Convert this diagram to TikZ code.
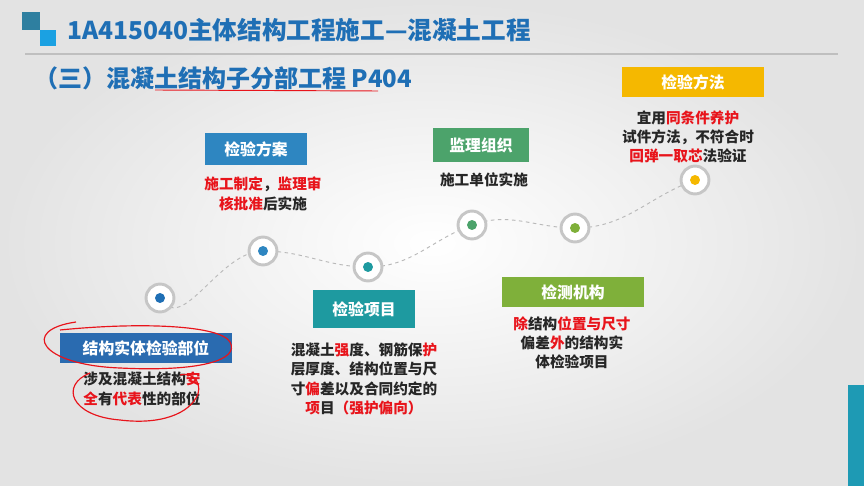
\documentclass[tikz,border=0pt]{standalone}
\usepackage{fontspec}
\setmainfont{Noto Sans CJK SC}
\usetikzlibrary{shapes.geometric}
\definecolor{tblue}{HTML}{1F6FB5}
\definecolor{rr}{HTML}{E8141B}
\newcommand{\R}[1]{\textcolor{rr}{#1}}
\tikzset{
 hdr/.style={draw=none,minimum height=30*0.85pt,text=white,font=\bfseries\fontsize{13.5}{16}\selectfont,inner sep=0pt},
 ring/.style={circle,draw=gray!45,line width=2.5pt,fill=white,minimum size=28*0.85pt,inner sep=0pt},
 dotc/.style={circle,minimum size=10*0.85pt,inner sep=0pt},
 body/.style={align=center,font=\bfseries\fontsize{12.5}{16.5}\selectfont,text=black!85},
 redink/.style={draw=rr,line width=1pt}
}
\begin{document}
\begin{tikzpicture}[x=0.03cm,y=-0.03cm]
\useasboundingbox (0,0) rectangle (864,486);
\shade[inner color=white,outer color=gray!22] (0,0) rectangle (864,486);
\fill[color={rgb,255:red,46;green,127;blue,160}] (22,12) rectangle (40,30);
\fill[color={rgb,255:red,27;green,161;blue,226}] (40,30) rectangle (56,46);
\node[anchor=west,text=tblue,font=\bfseries\fontsize{21}{24}\selectfont] (title) at (63,30) {1A415040主体结构工程施工—混凝土工程};
\draw[gray!50,line width=1pt] (25,54) -- (838,54);
\node[anchor=west,text=tblue,font=\bfseries\fontsize{20.5}{24}\selectfont] (sub) at (30,78) {（三）混凝土结构子分部工程 P404};
\draw[rr,line width=0.8pt] (155,90) -- (378,91);
% path
\coordinate (c1) at (160,298); \coordinate (c2) at (263,251); \coordinate (c3) at (368,267);
\coordinate (c4) at (472,225); \coordinate (c5) at (575,228); \coordinate (c6) at (695,180);
\draw[gray!55,dashed,line width=0.8pt] (c1) to[out=-60,in=180] (c2) to[out=0,in=180] (c3) to[out=0,in=200] (c4) to[out=20,in=180] (c5) to[out=0,in=200] (c6);
\node[ring] (r1) at (c1) {}; \node[dotc,fill=tblue] at (c1) {};
\node[ring] (r2) at (c2) {}; \node[dotc,fill={rgb,255:red,46;green,134;blue,193}] at (c2) {};
\node[ring] (r3) at (c3) {}; \node[dotc,fill={rgb,255:red,30;green,154;blue,160}] at (c3) {};
\node[ring] (r4) at (c4) {}; \node[dotc,fill={rgb,255:red,76;green,163;blue,107}] at (c4) {};
\node[ring] (r5) at (c5) {}; \node[dotc,fill={rgb,255:red,127;green,176;blue,58}] at (c5) {};
\node[ring] (r6) at (c6) {}; \node[dotc,fill={rgb,255:red,245;green,184;blue,0}] at (c6) {};
% headers
\node[hdr,fill={rgb,255:red,42;green,107;blue,176},minimum width=172*0.85pt] (h1) at (146,348) {结构实体检验部位};
\node[hdr,fill={rgb,255:red,46;green,134;blue,193},minimum width=102*0.85pt,minimum height=32*0.85pt] (h2) at (256,149) {检验方案};
\node[hdr,fill={rgb,255:red,30;green,154;blue,160},minimum width=102*0.85pt,minimum height=38*0.85pt] (h3) at (364,309) {检验项目};
\node[hdr,fill={rgb,255:red,76;green,163;blue,107},minimum width=97*0.85pt,minimum height=35*0.85pt] (h4) at (481,145) {监理组织};
\node[hdr,fill={rgb,255:red,127;green,176;blue,58},minimum width=143*0.85pt] (h5) at (573,292) {检测机构};
\node[hdr,fill={rgb,255:red,245;green,184;blue,0},minimum width=143*0.85pt] (h6) at (693,82) {检验方法};
% bodies
\node[body] (b1) at (142,389) {涉及混凝土结构\R{安}\\\R{全}有\R{代表}性的部位};
\node[body] (b2) at (263,194) {\R{施工制定}，\R{监理审}\\\R{核批准}后实施};
\node[body] (b3) at (364,379) {混凝土\R{强}度、钢筋保\R{护}\\层厚度、结构位置与尺\\寸\R{偏}差以及合同约定的\\\R{项}目\R{（强护偏向）}};
\node[body] (b4) at (484,180) {施工单位实施};
\node[body] (b5) at (572,343) {\R{除}结构\R{位置与尺寸}\\偏差\R{外}的结构实\\体检验项目};
\node[body] (b6) at (688,137) {宜用\R{同条件养护}\\试件方法，不符合时\\\R{回弹一取芯}法验证};
% red ink
\draw[redink] (76,322) .. controls (20,330) and (40,365) .. (120,368) .. controls (200,372) and (240,360) .. (230,342) .. controls (220,325) and (140,322) .. (60,330);
\draw[redink] (90,373) .. controls (60,385) and (70,416) .. (120,420) .. controls (160,425) and (190,414) .. (198,394) .. controls (202,380) and (190,372) .. (180,375);
\fill[color={rgb,255:red,30;green,154;blue,180}] (848,385) rectangle (864,486);
\end{tikzpicture}
\end{document}
